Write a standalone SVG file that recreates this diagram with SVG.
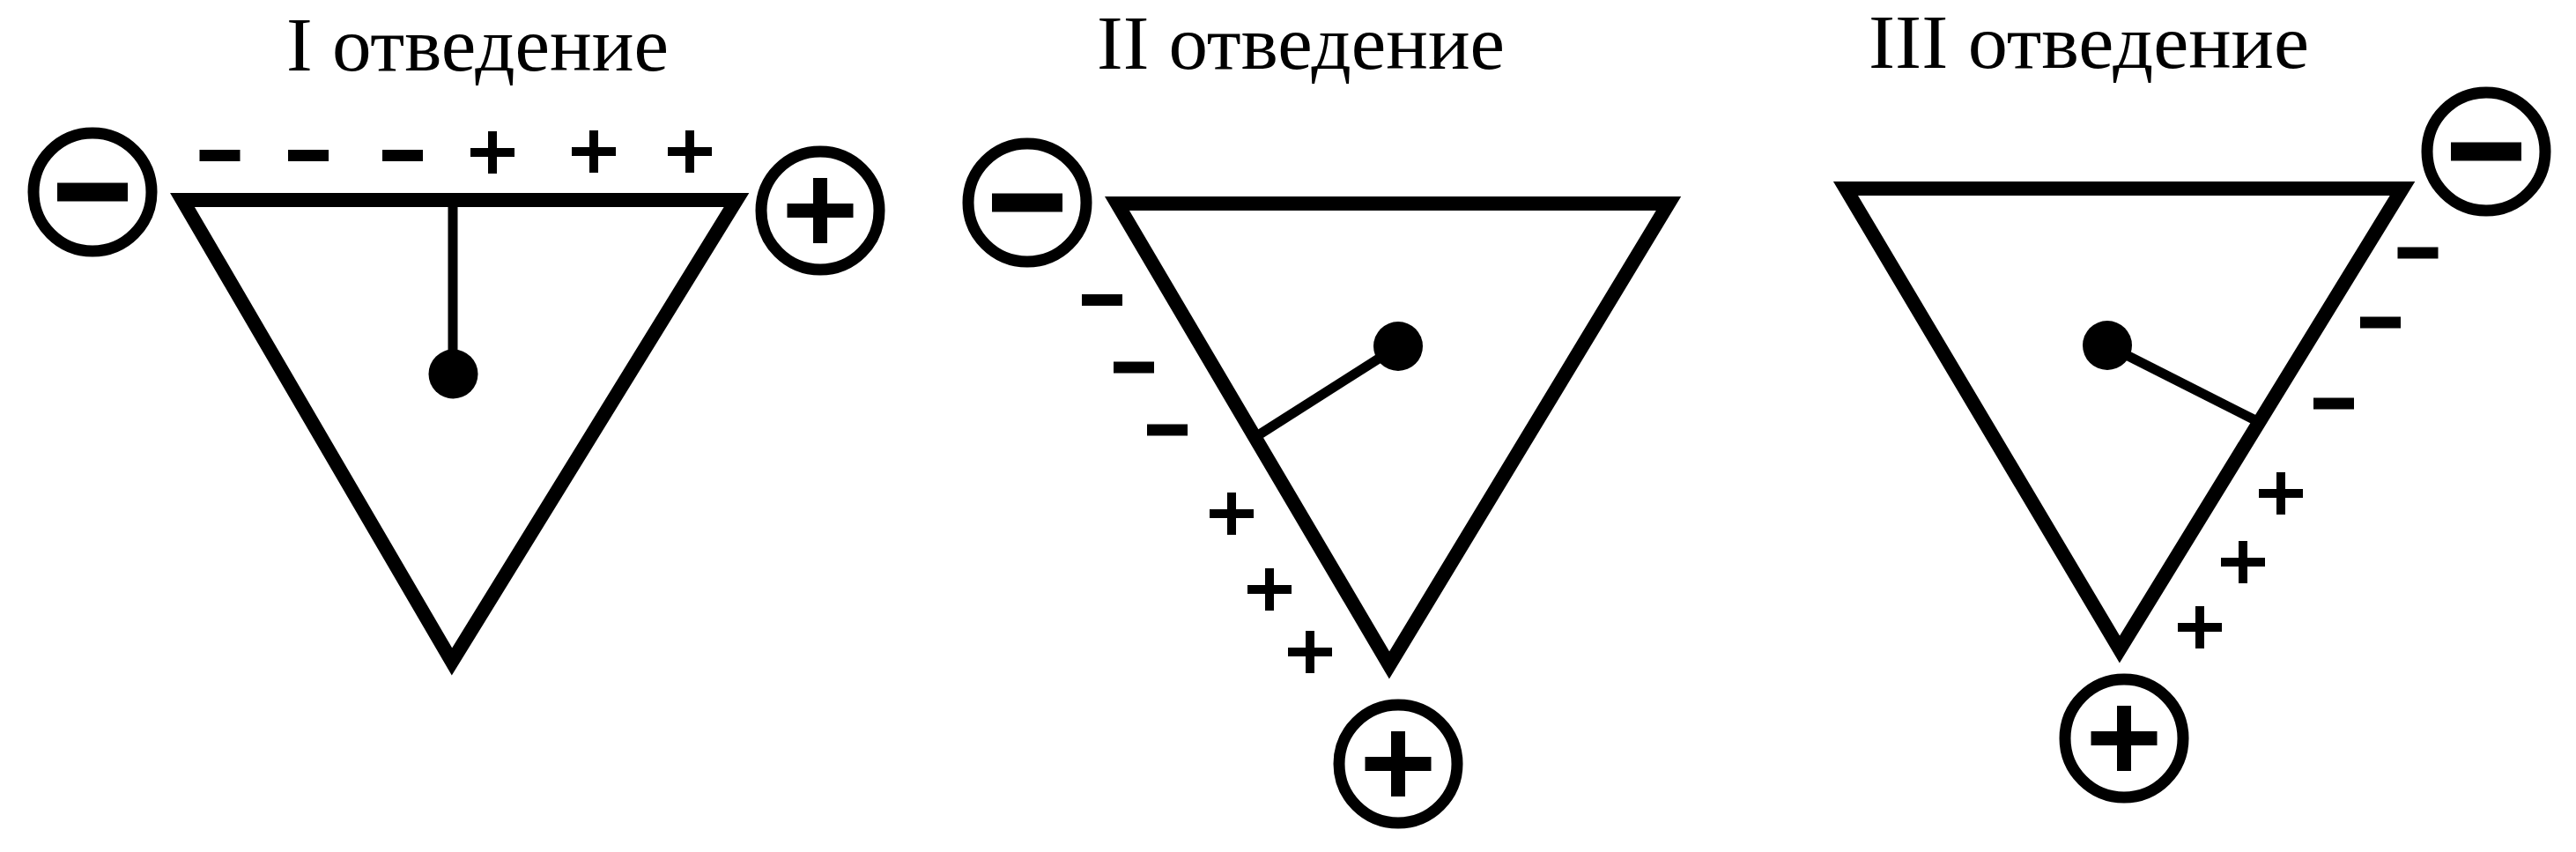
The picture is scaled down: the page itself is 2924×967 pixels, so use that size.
<svg xmlns="http://www.w3.org/2000/svg" xmlns:xlink="http://www.w3.org/1999/xlink" width="2924" height="967" viewBox="0 0 2924 967">
<style>
.title{font-family:"Liberation Serif","Times New Roman",serif;font-size:87px;fill:#000}
.tri{fill:none;stroke:#000;stroke-width:16;stroke-linejoin:miter;stroke-miterlimit:10}
.lead{stroke:#000;stroke-width:11;fill:none}
.ring{fill:#fff;stroke:#000;stroke-width:13}
.dot{fill:#000}
.sp{stroke:#000;stroke-width:10;fill:none}
</style>
<defs>
<rect id="sm" x="-23" y="-6.5" width="46" height="13" fill="#000"/>
<g id="spl"><line class="sp" x1="-25" y1="0" x2="25" y2="0"/><line class="sp" x1="0" y1="-24" x2="0" y2="24"/></g>
<g id="eneg"><circle class="ring" cx="0" cy="0" r="67"/><rect x="-40" y="-10.5" width="80" height="21" fill="#000"/></g>
<g id="epos"><circle class="ring" cx="0" cy="0" r="67"/><rect x="-37.5" y="-8" width="75" height="16" fill="#000"/><rect x="-8" y="-37" width="16" height="74" fill="#000"/></g>
</defs>
<rect width="2924" height="967" fill="#fff"/>

<g id="lead-I">
<text class="title" x="325" y="80" textLength="434" lengthAdjust="spacingAndGlyphs">I отведение</text>
<polygon class="tri" points="207,227 836,227 513,751"/>
<use xlink:href="#eneg" x="105" y="218"/>
<use xlink:href="#epos" x="931" y="239"/>
<use xlink:href="#sm" x="249.5" y="176.5"/>
<use xlink:href="#sm" x="350" y="176.5"/>
<use xlink:href="#sm" x="457" y="176.5"/>
<use xlink:href="#spl" x="559" y="173"/>
<use xlink:href="#spl" x="674" y="172"/>
<use xlink:href="#spl" x="783" y="172"/>
</g>

<g id="lead-II">
<text class="title" x="1245" y="78" textLength="463" lengthAdjust="spacingAndGlyphs">II отведение</text>
<polygon class="tri" points="1268,231 1894,231 1577,755"/>
<use xlink:href="#eneg" x="1166" y="230"/>
<use xlink:href="#epos" x="1587" y="867"/>
<use xlink:href="#sm" x="1251" y="340.5"/>
<use xlink:href="#sm" x="1287" y="417"/>
<use xlink:href="#sm" x="1325" y="488"/>
<use xlink:href="#spl" x="1398" y="583"/>
<use xlink:href="#spl" x="1441" y="669"/>
<use xlink:href="#spl" x="1487" y="740"/>
</g>

<g id="lead-III">
<text class="title" x="2121" y="77" textLength="500" lengthAdjust="spacingAndGlyphs">III отведение</text>
<polygon class="tri" points="2095,214 2727,214 2406,737"/>
<use xlink:href="#eneg" x="2822" y="172"/>
<use xlink:href="#epos" x="2411" y="838"/>
<use xlink:href="#sm" x="2744.5" y="287"/>
<use xlink:href="#sm" x="2702" y="366"/>
<use xlink:href="#sm" x="2649" y="458"/>
<use xlink:href="#spl" x="2589" y="560"/>
<use xlink:href="#spl" x="2546" y="638"/>
<use xlink:href="#spl" x="2497" y="712"/>
</g>

<g id="connectors">
<line class="lead" x1="514" y1="232" x2="514" y2="424"/>
<circle class="dot" cx="514.5" cy="424.5" r="28"/>
<line class="lead" x1="1425" y1="496" x2="1587" y2="393"/>
<circle class="dot" cx="1587" cy="393" r="28"/>
<line class="lead" x1="2564" y1="479" x2="2392" y2="392"/>
<circle class="dot" cx="2392" cy="392" r="28"/>
</g>
</svg>
